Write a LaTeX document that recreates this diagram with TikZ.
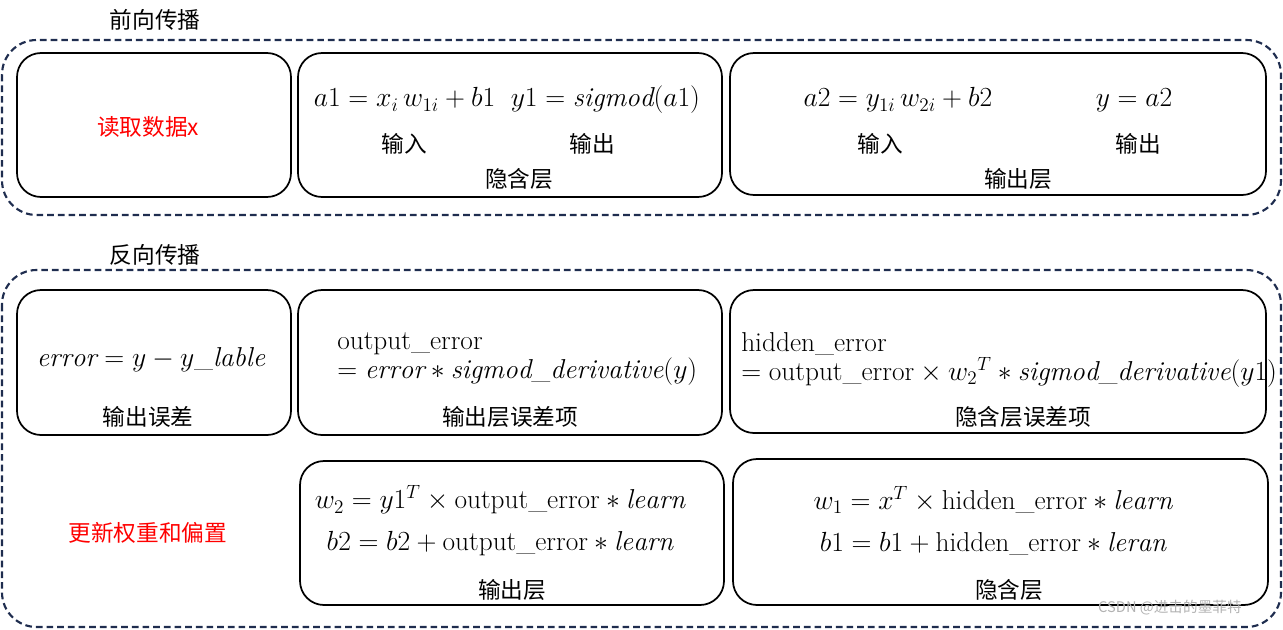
\documentclass[tikz,border=0pt]{standalone}
\usepackage{amsmath}
\usepackage{fontspec}
\newfontfamily\cjk{Noto Sans CJK SC}
\definecolor{navy}{HTML}{1F2D4F}
\newcommand{\us}{\text{\_}}
\tikzset{box/.style={draw=black,line width=1.3pt,rounded corners=18pt},
outer/.style={draw=navy,line width=1.6pt,dashed,dash pattern=on 5pt off 3pt,rounded corners=26pt},
lab/.style={font=\cjk\fontsize{17}{20}\selectfont,inner sep=0pt},
red/.style={lab,text=red},
eq/.style={font=\fontsize{20.5}{24}\selectfont,inner sep=0pt}}
\begin{document}
\begin{tikzpicture}[x=0.75pt,y=-0.75pt]
\useasboundingbox (0,0) rectangle (1283,629);
\draw[outer] (2,40) rectangle (1281,215);
\draw[outer] (2,270) rectangle (1281,627);
\node[lab] (t1) at (155,20) {前向传播};
\node[lab] (t2) at (155,255) {反向传播};
% top row
\draw[box] (17,53) rectangle (291,197);
\draw[box] (298,53) rectangle (722,197);
\draw[box] (730,53) rectangle (1266,195);
\node[red] (rd) at (148,127) {读取数据x};
\node[eq] (e1) at (507,100) {$a1=x_i\,w_{1i}+b1\;\;y1=\mathit{sigmod}(a1)$};
\node[lab] (l1) at (404,144) {输入};
\node[lab] (l2) at (592,144) {输出};
\node[lab] (l3) at (519,179) {隐含层};
\node[eq] (e2) at (898,100) {$a2=y_{1i}\,w_{2i}+b2$};
\node[eq] (e3) at (1134,100) {$y=a2$};
\node[lab] (l4) at (880,144) {输入};
\node[lab] (l5) at (1138,144) {输出};
\node[lab] (l6) at (1018,179) {输出层};
% second row
\draw[box] (17,290) rectangle (291,435);
\draw[box] (298,290) rectangle (722,435);
\draw[box] (730,290) rectangle (1266,433);
\node[eq] (e4) at (151,360) {$\mathit{error}=y-y\us\mathit{lable}$};
\node[lab] (l7) at (148,417) {输出误差};
\node[eq,anchor=west] (e5) at (337,344) {$\mathrm{output\us error}$};
\node[eq,anchor=west] (e6) at (337,372) {$=\mathit{error}\ast\mathit{sigmod\us derivative}(y)$};
\node[lab] (l8) at (510,417) {输出层误差项};
\node[eq,anchor=west] (e7) at (741,344) {$\mathrm{hidden\us error}$};
\node[eq,anchor=west] (e8) at (741,372) {$=\mathrm{output\us error}\times {w_2}^T\ast\mathit{sigmod\us derivative}(y1)$};
\node[lab] (l9) at (1023,417) {隐含层误差项};
% third row
\node[red] (up) at (148,533) {更新权重和偏置};
\draw[box] (300,461) rectangle (724,605);
\draw[box] (733,459) rectangle (1268,605);
\node[eq] (e9) at (500,500) {$w_2=y1^T\times\mathrm{output\us error}\ast\mathit{learn}$};
\node[eq] (e10) at (500,544) {$b2=b2+\mathrm{output\us error}\ast\mathit{learn}$};
\node[lab] (l10) at (512,590) {输出层};
\node[eq] (e11) at (993,500) {$w_1=x^T\times\mathrm{hidden\us error}\ast\mathit{learn}$};
\node[eq] (e12) at (993,544) {$b1=b1+\mathrm{hidden\us error}\ast\mathit{leran}$};
\node[lab] (l11) at (1009,590) {隐含层};
\node[lab,font=\cjk\fontsize{11}{13}\selectfont,text=gray!60] (wm) at (1170,608) {CSDN @进击的墨菲特};
\end{tikzpicture}
\end{document}
